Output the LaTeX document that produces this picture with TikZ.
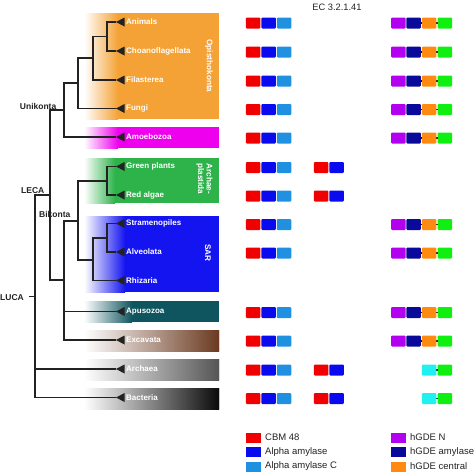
\documentclass[tikz,border=0pt]{standalone}
\usepackage{fontspec}
\setmainfont{Liberation Sans}
\definecolor{opis}{HTML}{F4A236}
\definecolor{amoe}{HTML}{EE00EE}
\definecolor{arch}{HTML}{2DB34A}
\definecolor{sarc}{HTML}{1414F0}
\definecolor{apus}{HTML}{0F555F}
\definecolor{exca}{HTML}{6B3A20}
\definecolor{archa}{HTML}{555555}
\definecolor{bact}{HTML}{0A0A0A}
\definecolor{cbm}{HTML}{F00000}
\definecolor{aamy}{HTML}{0A0AEE}
\definecolor{aamyc}{HTML}{2090E0}
\definecolor{hgn}{HTML}{B400F0}
\definecolor{hga}{HTML}{0A0A9A}
\definecolor{hgc}{HTML}{FF8A10}
\definecolor{hgg}{HTML}{10F010}
\definecolor{hgcy}{HTML}{20F0F0}
\definecolor{ink}{HTML}{222222}
\begin{document}
\begin{tikzpicture}[x=1pt,y=-1pt,
  branch/.style={line width=1.9pt, draw=ink},
  taxon/.style={anchor=west, text=white, font=\fontsize{8}{9}\selectfont\bfseries, inner sep=0pt},
  cladelbl/.style={text=ink, font=\fontsize{8.5}{9}\selectfont\bfseries, inner sep=0pt},
  grp/.style={rotate=-90, text=white, font=\fontsize{8.2}{8.7}\selectfont\bfseries, align=center, inner sep=0pt},
  dom/.style={minimum width=14.5pt, minimum height=11pt, inner sep=0pt, rounded corners=1pt},
  legbox/.style={minimum width=15pt, minimum height=10pt, inner sep=0pt},
  legtxt/.style={anchor=west, font=\fontsize{9.5}{10}\selectfont, inner sep=0pt, text=ink},
]
\useasboundingbox (0,0) rectangle (474,474);

% coloured bands
\foreach \tp/\bt/\cl/\fe in {13/119/opis/118, 127/148/amoe/118, 158/203/arch/115,
  216/292/sarc/125, 301/322/apus/132, 330/351/exca/219, 359/380/archa/219, 388/409/bact/219}{
  \shade[left color=white, right color=\cl] (84,\tp) rectangle (\fe,\bt);
  \fill[\cl] (\fe,\tp) rectangle (219,\bt);
}

% tips
\foreach \n/\y in {0/22,1/51,2/80,3/108.5,4/137,5/166.5,6/195,7/223.5,8/252,9/280.5,10/311.5,11/340,12/369,13/397.5}{
  \coordinate (t\n) at (116,\y);
  \fill[ink] (t\n) -- ++(8.5,-4.5) -- ++(0,9) -- cycle;
}

% internal nodes
\coordinate (nAC) at (107,36.5);
\coordinate (nF) at (93,58);
\coordinate (nFu) at (78,83);
\coordinate (nOA) at (64,110);
\coordinate (nArc) at (107,181);
\coordinate (nSA) at (107,238);
\coordinate (nSAR) at (93,260);
\coordinate (nAS) at (78,221);
\coordinate (nBik) at (64,280);
\coordinate (nLECA) at (50,195);
\coordinate (nLUCA) at (35,296.5);
\coordinate (root) at (29,296.5);

\draw[branch] (nAC) |- (t0);
\draw[branch] (nAC) |- (t1);
\draw[branch] (nF) |- (nAC);
\draw[branch] (nF) |- (t2);
\draw[branch] (nFu) |- (nF);
\draw[branch] (nFu) |- (t3);
\draw[branch] (nOA) |- (nFu);
\draw[branch] (nOA) |- (t4);
\draw[branch] (nArc) |- (t5);
\draw[branch] (nArc) |- (t6);
\draw[branch] (nSA) |- (t7);
\draw[branch] (nSA) |- (t8);
\draw[branch] (nSAR) |- (nSA);
\draw[branch] (nSAR) |- (t9);
\draw[branch] (nAS) |- (nArc);
\draw[branch] (nAS) |- (nSAR);
\draw[branch] (nBik) |- (nAS);
\draw[branch] (nBik) |- (t10);
\draw[branch] (nBik) |- (t11);
\draw[branch] (nLECA) |- (nOA);
\draw[branch] (nLECA) |- (nBik);
\draw[branch] (nLUCA) |- (nLECA);
\draw[branch] (nLUCA) |- (t12);
\draw[branch] (nLUCA) |- (t13);
\draw[branch] (root) -- (nLUCA);

% clade labels
\node[cladelbl, anchor=east] (lUni) at (56.5,106) {Unikonta};
\node[cladelbl, anchor=west] (lLECA) at (21,191) {LECA};
\node[cladelbl, anchor=west] (lBik) at (39,214) {Bikonta};
\node[cladelbl, anchor=east] (lLUCA) at (24,297.5) {LUCA};

% taxon labels
\foreach \n/\y/\t in {0/22/Animals,1/51/Choanoflagellata,2/80/Filasterea,3/108.5/Fungi,4/137/Amoebozoa,
  5/166.5/Green plants,6/195/Red algae,7/223.5/Stramenopiles,8/252/Alveolata,9/280.5/Rhizaria,
  10/311.5/Apusozoa,11/340/Excavata,12/369/Archaea,13/397.5/Bacteria}{
  \node[taxon] (lab\n) at (126,\y) {\t};
}

% group labels
\node[grp] (gOpis) at (209,66) {Opisthokonta};
\node[grp] (gArch) at (204.5,179) {Archae-\\plastida};
\node[grp] (gSAR) at (208,253) {SAR};

% title
\node[font=\fontsize{9.3}{10}\selectfont, text=ink, inner sep=0pt] (title) at (337,7.5) {EC 3.2.1.41};

% domain boxes, column 1
\foreach \n/\y in {0/22,1/51,2/80,3/108.5,4/137,5/166.5,6/195,7/223.5,8/252,10/311.5,11/340,12/369,13/397.5}{
  \node[dom, fill=cbm] (a\n) at (253.2,\y+1) {};
  \node[dom, fill=aamy] (b\n) at (268.6,\y+1) {};
  \node[dom, fill=aamyc] (c\n) at (284,\y+1) {};
}
% column 2
\foreach \n/\y in {5/166.5,6/195,12/369,13/397.5}{
  \node[dom, fill=cbm] (d\n) at (321.2,\y+1) {};
  \node[dom, fill=aamy] (e\n) at (336.7,\y+1) {};
}
% column 3
\foreach \n/\y in {0/22,1/51,2/80,3/108.5,4/137,7/223.5,8/252,10/311.5,11/340}{
  \draw[line width=1.6pt, black] (419,\y+1) -- (440,\y+1);
  \node[dom, fill=hgn] (f\n) at (398.3,\y+1) {};
  \node[dom, fill=hga] (g\n) at (413.6,\y+1) {};
  \node[dom, fill=hgc] (h\n) at (429.2,\y+1) {};
  \node[dom, fill=hgg] (k\n) at (444.9,\y+1) {};
}
\foreach \n/\y in {12/369,13/397.5}{
  \draw[line width=1.6pt, black] (434,\y+1) -- (440,\y+1);
  \node[dom, fill=hgcy] (h\n) at (429.2,\y+1) {};
  \node[dom, fill=hgg] (k\n) at (444.9,\y+1) {};
}

% legend
\node[legbox, fill=cbm] (L1) at (253.5,437.5) {};
\node[legtxt] (L1t) at (265,437.5) {CBM 48};
\node[legbox, fill=aamy] (L2) at (253.5,452) {};
\node[legtxt] (L2t) at (265,452) {Alpha amylase};
\node[legbox, fill=aamyc] (L3) at (253.5,466.5) {};
\node[legtxt] (L3t) at (265,466.5) {Alpha amylase C};
\node[legbox, fill=hgn] (L4) at (398.5,437.5) {};
\node[legtxt] (L4t) at (410,437.5) {hGDE N};
\node[legbox, fill=hga] (L5) at (398.5,452) {};
\node[legtxt] (L5t) at (410,452) {hGDE amylase};
\node[legbox, fill=hgc] (L6) at (398.5,466.5) {};
\node[legtxt] (L6t) at (410,466.5) {hGDE central};
\end{tikzpicture}
\end{document}
